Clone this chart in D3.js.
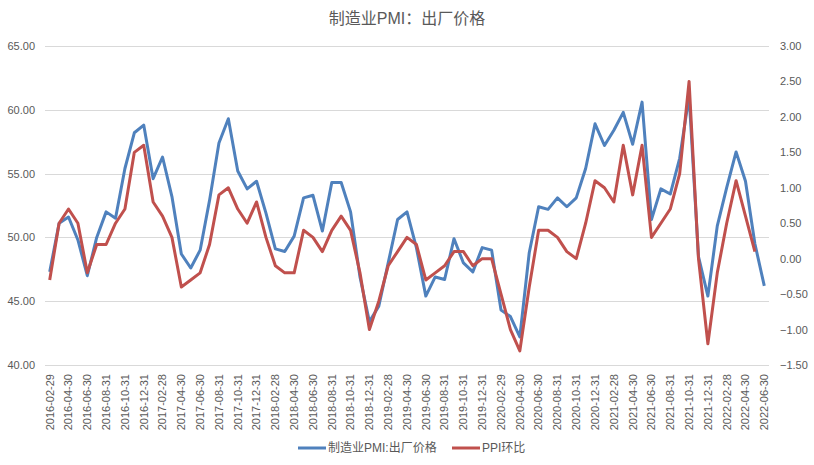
<!DOCTYPE html>
<html>
<head>
<meta charset="utf-8">
<script src="https://cdn.jsdelivr.net/npm/d3@7"></script>
<style>
  body { margin: 0; background: #fff; }
  text { font-family: "Liberation Sans", Arial, "Noto Sans CJK SC", sans-serif; fill: #595959; }
</style>
</head>
<body>
<svg id="chart" width="814" height="465"></svg>
<script>
// months 2016-02 .. 2022-06, month-end labels
var dates = [
  "2016-02-29","2016-03-31","2016-04-30","2016-05-31","2016-06-30","2016-07-31","2016-08-31","2016-09-30","2016-10-31","2016-11-30","2016-12-31",
  "2017-01-31","2017-02-28","2017-03-31","2017-04-30","2017-05-31","2017-06-30","2017-07-31","2017-08-31","2017-09-30","2017-10-31","2017-11-30","2017-12-31",
  "2018-01-31","2018-02-28","2018-03-31","2018-04-30","2018-05-31","2018-06-30","2018-07-31","2018-08-31","2018-09-30","2018-10-31","2018-11-30","2018-12-31",
  "2019-01-31","2019-02-28","2019-03-31","2019-04-30","2019-05-31","2019-06-30","2019-07-31","2019-08-31","2019-09-30","2019-10-31","2019-11-30","2019-12-31",
  "2020-01-31","2020-02-29","2020-03-31","2020-04-30","2020-05-31","2020-06-30","2020-07-31","2020-08-31","2020-09-30","2020-10-31","2020-11-30","2020-12-31",
  "2021-01-31","2021-02-28","2021-03-31","2021-04-30","2021-05-31","2021-06-30","2021-07-31","2021-08-31","2021-09-30","2021-10-31","2021-11-30","2021-12-31",
  "2022-01-31","2022-02-28","2022-03-31","2022-04-30","2022-05-31","2022-06-30"
];

// 制造业PMI:出厂价格 (left axis)
var pmiPrice = [
  47.3, 51.1, 51.6, 49.8, 47.0, 50.0, 52.0, 51.5, 55.4, 58.2, 58.8,
  54.6, 56.3, 53.2, 48.7, 47.6, 49.0, 52.9, 57.4, 59.3, 55.2, 53.8, 54.4,
  51.9, 49.1, 48.9, 50.1, 53.1, 53.3, 50.5, 54.3, 54.3, 52.0, 46.9, 43.4,
  44.6, 48.0, 51.4, 52.0, 49.2, 45.4, 46.9, 46.7, 49.9, 48.0, 47.3, 49.2,
  49.0, 44.3, 43.8, 42.2, 48.8, 52.4, 52.2, 53.1, 52.4, 53.1, 55.4, 58.9,
  57.2, 58.4, 59.8, 57.3, 60.6, 51.4, 53.8, 53.4, 56.2, 61.1, 48.5, 45.4,
  50.9, 53.9, 56.7, 54.4, 49.5, 46.2
];

// PPI环比 (right axis), June 2022 not yet out
var ppiMom = [
  -0.3, 0.5, 0.7, 0.5, -0.2, 0.2, 0.2, 0.5, 0.7, 1.5, 1.6,
  0.8, 0.6, 0.3, -0.4, -0.3, -0.2, 0.2, 0.9, 1.0, 0.7, 0.5, 0.8,
  0.3, -0.1, -0.2, -0.2, 0.4, 0.3, 0.1, 0.4, 0.6, 0.4, -0.2, -1.0,
  -0.6, -0.1, 0.1, 0.3, 0.2, -0.3, -0.2, -0.1, 0.1, 0.1, -0.1, 0.0,
  0.0, -0.5, -1.0, -1.3, -0.4, 0.4, 0.4, 0.3, 0.1, 0.0, 0.5, 1.1,
  1.0, 0.8, 1.6, 0.9, 1.6, 0.3, 0.5, 0.7, 1.2, 2.5, 0.0, -1.2,
  -0.2, 0.5, 1.1, 0.6, 0.1, null
];

var leftTicks = [40, 45, 50, 55, 60, 65];
var rightTicks = [-1.5, -1.0, -0.5, 0, 0.5, 1.0, 1.5, 2.0, 2.5, 3.0];

var seriesNames = ["制造业PMI:出厂价格", "PPI环比"];
var colors = ["#4f81bd", "#c0504d"];

var svg = d3.select("#chart");
var plotL = 45, plotR = 769, plotT = 46, plotB = 365;

var x = d3.scaleBand().domain(dates).range([plotL, plotR]);
var yL = d3.scaleLinear().domain([40, 65]).range([plotB, plotT]);
var yR = d3.scaleLinear().domain([-1.5, 3.0]).range([plotB, plotT]);

// title
svg.append("text")
   .attr("x", 407).attr("y", 24)
   .attr("text-anchor", "middle")
   .style("font-size", "16px")
   .text("制造业PMI：出厂价格");

// gridlines
svg.append("g").selectAll("line")
   .data(leftTicks).enter().append("line")
   .attr("x1", plotL).attr("x2", plotR)
   .attr("y1", function(d){ return Math.round(yL(d)) + 0.5; })
   .attr("y2", function(d){ return Math.round(yL(d)) + 0.5; })
   .attr("stroke", "#d9d9d9").attr("stroke-width", 1);

// left axis
var gl = svg.append("g")
   .attr("transform", "translate(" + (plotL - 7) + ",0)")
   .call(d3.axisLeft(yL).tickValues(leftTicks).tickSize(0).tickFormat(d3.format(".2f")));
gl.select(".domain").remove();
gl.selectAll("text").style("font-size", "11px").attr("fill", "#595959").attr("x", -3);

// right axis
var gr = svg.append("g")
   .attr("transform", "translate(" + (plotR + 8) + ",0)")
   .call(d3.axisRight(yR).tickValues(rightTicks).tickSize(0).tickFormat(d3.format(".2f")));
gr.select(".domain").remove();
gr.selectAll("text").style("font-size", "11px").attr("fill", "#595959").attr("x", 3);

// x axis labels, every second month
var gx = svg.append("g")
   .attr("transform", "translate(0," + (plotB + 6) + ")")
   .call(d3.axisBottom(x).tickValues(dates.filter(function(d, i){ return i % 2 === 0; })).tickSize(0));
gx.select(".domain").remove();
gx.selectAll("text")
   .style("font-size", "11px").attr("fill", "#595959")
   .attr("text-anchor", "end")
   .attr("transform", "rotate(-90)")
   .attr("x", -3).attr("y", 0).attr("dy", "0.35em");

var cx = function(d, i){ return x(dates[i]) + x.bandwidth() / 2; };

var lineL = d3.line().x(cx).y(function(d){ return yL(d); });
var lineR = d3.line().defined(function(d){ return d !== null; }).x(cx).y(function(d){ return yR(d); });

svg.append("path").datum(pmiPrice)
   .attr("d", lineL).attr("fill", "none")
   .attr("stroke", colors[0]).attr("stroke-width", 3).attr("stroke-linejoin", "round");

svg.append("path").datum(ppiMom)
   .attr("d", lineR).attr("fill", "none")
   .attr("stroke", colors[1]).attr("stroke-width", 3).attr("stroke-linejoin", "round");

// legend
var legX = [298, 452];
var leg = svg.append("g").selectAll("g")
   .data(seriesNames).enter().append("g")
   .attr("transform", function(d, i){ return "translate(" + legX[i] + ",448)"; });
leg.append("line")
   .attr("x1", 0).attr("x2", 28).attr("y1", 0).attr("y2", 0)
   .attr("stroke", function(d, i){ return colors[i]; }).attr("stroke-width", 3);
leg.append("text")
   .attr("x", 30).attr("y", 0).attr("dy", "0.35em")
   .style("font-size", "12px")
   .text(function(d){ return d; });
</script>
</body>
</html>
